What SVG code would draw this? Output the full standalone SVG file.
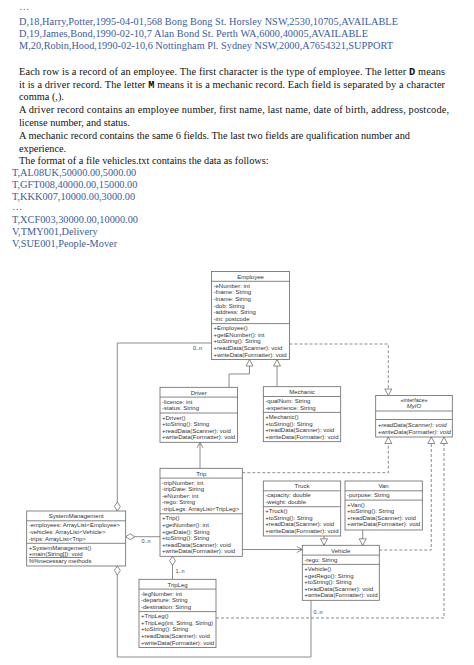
<svg xmlns="http://www.w3.org/2000/svg" width="474" height="665" viewBox="0 0 474 665">
<style>
.t{font-family:"Liberation Serif","Times New Roman",serif;font-size:10.3px}
.blue{fill:#3a5ca0}
.blk{fill:#111}
.mono{font-family:"Liberation Mono","Courier New",monospace;font-weight:bold}
.box{fill:#fff;stroke:#666;stroke-width:0.8}
.sep{stroke:#666;stroke-width:0.8}
.u{font-family:"Liberation Sans",Arial,sans-serif;font-size:6px;fill:#333}
.ttl{text-anchor:middle}
.it{font-style:italic}
.ln{fill:none;stroke:#707070;stroke-width:0.8}
.dash{stroke-dasharray:3 2}
.lbl{font-family:"Liberation Sans",Arial,sans-serif;font-size:5.5px;fill:#444}
.mk{fill:#fff;stroke:#707070;stroke-width:0.8;stroke-dasharray:none}
.mko{fill:none;stroke:#707070;stroke-width:0.8;stroke-dasharray:none}
</style>
<defs>
<marker id="tri" markerUnits="userSpaceOnUse" markerWidth="10" markerHeight="10" refX="6.5" refY="3.5" orient="auto" overflow="visible"><path class="mk" d="M0,0 L6.5,3.5 L0,7 Z"/></marker>
<marker id="open" markerUnits="userSpaceOnUse" markerWidth="10" markerHeight="10" refX="5.5" refY="3" orient="auto" overflow="visible"><path class="mko" d="M0,0 L5.5,3 L0,6"/></marker>
<marker id="dia" markerUnits="userSpaceOnUse" markerWidth="10" markerHeight="10" refX="0" refY="3" orient="auto" overflow="visible"><path class="mk" d="M0,3 L4.5,0 L9,3 L4.5,6 Z"/></marker>
</defs>
<rect width="474" height="665" fill="#fff"/>

<g id="text-block">
<text class="t blue" x="19" y="10">…</text>
<text class="t blue" x="19" y="24.5" textLength="379">D,18,Harry,Potter,1995-04-01,568 Bong Bong St. Horsley NSW,2530,10705,AVAILABLE</text>
<text class="t blue" x="19" y="36.5" textLength="349">D,19,James,Bond,1990-02-10,7 Alan Bond St. Perth WA,6000,40005,AVAILABLE</text>
<text class="t blue" x="19" y="48.5" textLength="374">M,20,Robin,Hood,1990-02-10,6 Nottingham Pl. Sydney NSW,2000,A7654321,SUPPORT</text>
<text class="t blk" x="19" y="75" textLength="426">Each row is a record of an employee. The first character is the type of employee. The letter <tspan class="mono">D</tspan>  means</text>
<text class="t blk" x="19" y="87.5" textLength="426">it is a driver record. The letter <tspan class="mono">M</tspan>  means it is a mechanic record. Each field is separated by a character</text>
<text class="t blk" x="19" y="100">comma (,).</text>
<text class="t blk" x="19" y="113" textLength="430">A driver record contains an employee number, first name, last name, date of birth, address, postcode,</text>
<text class="t blk" x="19" y="125.5">license number, and status.</text>
<text class="t blk" x="19" y="139" textLength="391">A mechanic record contains the same 6 fields. The last two fields are qualification number and</text>
<text class="t blk" x="19" y="151.5">experience.</text>
<text class="t blk" x="19" y="163.5">The format of a file vehicles.txt contains the data as follows:</text>
<text class="t blue" x="12" y="176">T,AL08UK,50000.00,5000.00</text>
<text class="t blue" x="12" y="188">T,GFT008,40000.00,15000.00</text>
<text class="t blue" x="12" y="200">T,KKK007,10000.00,3000.00</text>
<text class="t blue" x="12" y="210">…</text>
<text class="t blue" x="12" y="222.5">T,XCF003,30000.00,10000.00</text>
<text class="t blue" x="12" y="234.5">V,TMY001,Delivery</text>
<text class="t blue" x="12" y="246.5">V,SUE001,People-Mover</text>
</g>

<g id="connectors">
<path class="ln" d="M117.3,511 V343 H211.5" marker-start="url(#dia)"/>
<path class="ln" d="M125.7,536.7 H160" marker-start="url(#dia)"/>
<path class="ln" d="M117.3,566 V657 H311 V600.3" marker-start="url(#dia)"/>
<path class="ln" d="M200,468.3 V442.3" marker-end="url(#open)"/>
<path class="ln" d="M172.5,556.3 V579.3" marker-start="url(#dia)"/>
<path class="ln" d="M242.3,549.5 H302.3" marker-end="url(#open)"/>
<path class="ln" d="M229,387.3 V374 H249.5 V359.5" marker-end="url(#tri)"/>
<path class="ln" d="M277,386.7 V359.5" marker-end="url(#tri)"/>
<path class="ln dash" d="M289.5,344 H388.3 V395.5" marker-end="url(#tri)"/>
<path class="ln dash" d="M242.3,472.7 H388.3 V437" marker-end="url(#tri)"/>
<path class="ln dash" d="M379.3,550 H431.3 V437" marker-end="url(#tri)"/>
<path class="ln dash" d="M216,618 H444 V437" marker-end="url(#tri)"/>
<path class="ln" d="M324,536 V545.3" marker-end="url(#tri)"/>
<path class="ln" d="M362.7,530 V545.3" marker-end="url(#tri)"/>
<text class="lbl" x="193" y="350">0..n</text>
<text class="lbl" x="141.5" y="543">0..n</text>
<text class="lbl" x="313.5" y="614">0..n</text>
<text class="lbl" x="175.5" y="573">1..n</text>
</g>

<g id="Employee">
<rect class="box" x="211.5" y="271.5" width="78" height="88"/>
<line class="sep" x1="211.5" y1="281.3" x2="289.5" y2="281.3"/>
<line class="sep" x1="211.5" y1="323.6" x2="289.5" y2="323.6"/>
<text class="u ttl" x="250.5" y="278.8">Employee</text>
<text class="u" x="213.5" y="287.8">-eNumber: int</text>
<text class="u" x="213.5" y="294.4">-fname: String</text>
<text class="u" x="213.5" y="301">-lname: String</text>
<text class="u" x="213.5" y="307.6">-dob: String</text>
<text class="u" x="213.5" y="314.2">-address: String</text>
<text class="u" x="213.5" y="320.8">-int: postcode</text>
<text class="u" x="213.5" y="330.1">+Employee()</text>
<text class="u" x="213.5" y="336.7">+getENumber(): int</text>
<text class="u" x="213.5" y="343.3">+toString(): String</text>
<text class="u" x="213.5" y="349.9">+readData(Scanner): void</text>
<text class="u" x="213.5" y="356.5">+writeData(Formatter): void</text>
</g>

<g id="Driver">
<rect class="box" x="160" y="387.3" width="77.5" height="55"/>
<line class="sep" x1="160" y1="397.1" x2="237.5" y2="397.1"/>
<line class="sep" x1="160" y1="413" x2="237.5" y2="413"/>
<text class="u ttl" x="198.7" y="394.6">Driver</text>
<text class="u" x="162" y="403.6">-licence: int</text>
<text class="u" x="162" y="410.2">-status: String</text>
<text class="u" x="162" y="419.5">+Driver()</text>
<text class="u" x="162" y="426.1">+toString(): String</text>
<text class="u" x="162" y="432.7">+readData(Scanner): void</text>
<text class="u" x="162" y="439.3">+writeData(Formatter): void</text>
</g>

<g id="Mechanic">
<rect class="box" x="263.3" y="386.7" width="77.4" height="55"/>
<line class="sep" x1="263.3" y1="396.5" x2="340.7" y2="396.5"/>
<line class="sep" x1="263.3" y1="412.4" x2="340.7" y2="412.4"/>
<text class="u ttl" x="302" y="394">Mechanic</text>
<text class="u" x="265.3" y="403">-qualNum: String</text>
<text class="u" x="265.3" y="409.6">-experience: String</text>
<text class="u" x="265.3" y="418.9">+Mechanic()</text>
<text class="u" x="265.3" y="425.5">+toString(): String</text>
<text class="u" x="265.3" y="432.1">+readData(Scanner): void</text>
<text class="u" x="265.3" y="438.7">+writeData(Formatter): void</text>
</g>

<g id="MyIO">
<rect class="box" x="375.7" y="395.5" width="76.6" height="41.5"/>
<line class="sep" x1="375.7" y1="411" x2="452.3" y2="411"/>
<line class="sep" x1="375.7" y1="419.5" x2="452.3" y2="419.5"/>
<text class="u ttl" x="414" y="402" style="font-size:5.5px">«interface»</text>
<text class="u ttl it" x="414" y="408.4">MyIO</text>
<text class="u it" x="377.7" y="427">+readData(Scanner): void</text>
<text class="u it" x="377.7" y="433.6">+writeData(Formatter): void</text>
</g>

<g id="Trip">
<rect class="box" x="160" y="468.3" width="82.3" height="88"/>
<line class="sep" x1="160" y1="478.1" x2="242.3" y2="478.1"/>
<line class="sep" x1="160" y1="513.8" x2="242.3" y2="513.8"/>
<text class="u ttl" x="201.2" y="475.6">Trip</text>
<text class="u" x="162" y="484.6">-tripNumber: int</text>
<text class="u" x="162" y="491.2">-tripDate: String</text>
<text class="u" x="162" y="497.8">-eNumber: int</text>
<text class="u" x="162" y="504.4">-rego: String</text>
<text class="u" x="162" y="511">-tripLegs: ArrayList&lt;TripLeg&gt;</text>
<text class="u" x="162" y="520.3">+Trip()</text>
<text class="u" x="162" y="526.9">+getNumber(): int</text>
<text class="u" x="162" y="533.5">+getDate(): String</text>
<text class="u" x="162" y="540.1">+toString(): String</text>
<text class="u" x="162" y="546.7">+readData(Scanner): void</text>
<text class="u" x="162" y="553.3">+writeData(Formatter): void</text>
</g>

<g id="Truck">
<rect class="box" x="263.3" y="481" width="77.4" height="55"/>
<line class="sep" x1="263.3" y1="490.8" x2="340.7" y2="490.8"/>
<line class="sep" x1="263.3" y1="506.7" x2="340.7" y2="506.7"/>
<text class="u ttl" x="302" y="488.3">Truck</text>
<text class="u" x="265.3" y="497.3">-capacity: double</text>
<text class="u" x="265.3" y="503.9">-weight: double</text>
<text class="u" x="265.3" y="513.2">+Truck()</text>
<text class="u" x="265.3" y="519.8">+toString(): String</text>
<text class="u" x="265.3" y="526.4">+readData(Scanner): void</text>
<text class="u" x="265.3" y="533">+writeData(Formatter): void</text>
</g>

<g id="Van">
<rect class="box" x="345" y="481" width="77.3" height="49"/>
<line class="sep" x1="345" y1="490.8" x2="422.3" y2="490.8"/>
<line class="sep" x1="345" y1="500.1" x2="422.3" y2="500.1"/>
<text class="u ttl" x="383.6" y="488.3">Van</text>
<text class="u" x="347" y="497.3">-purpose: String</text>
<text class="u" x="347" y="506.6">+Van()</text>
<text class="u" x="347" y="513.2">+toString(): String</text>
<text class="u" x="347" y="519.8">+readData(Scanner): void</text>
<text class="u" x="347" y="526.4">+writeData(Formatter): void</text>
</g>

<g id="Vehicle">
<rect class="box" x="302.3" y="545.3" width="77" height="55"/>
<line class="sep" x1="302.3" y1="555.1" x2="379.3" y2="555.1"/>
<line class="sep" x1="302.3" y1="564.4" x2="379.3" y2="564.4"/>
<text class="u ttl" x="340.8" y="552.6">Vehicle</text>
<text class="u" x="304.3" y="561.6">-rego: String</text>
<text class="u" x="304.3" y="570.9">+Vehicle()</text>
<text class="u" x="304.3" y="577.5">+getRego(): String</text>
<text class="u" x="304.3" y="584.1">+toString(): String</text>
<text class="u" x="304.3" y="590.7">+readData(Scanner): void</text>
<text class="u" x="304.3" y="597.3">+writeData(Formatter): void</text>
</g>

<g id="SystemManagement">
<rect class="box" x="26.7" y="511" width="99" height="55"/>
<line class="sep" x1="26.7" y1="520.8" x2="125.7" y2="520.8"/>
<line class="sep" x1="26.7" y1="543.3" x2="125.7" y2="543.3"/>
<text class="u ttl" x="76.2" y="518.3">SystemManagement</text>
<text class="u" x="28.7" y="527.3">-employees: ArrayList&lt;Employee&gt;</text>
<text class="u" x="28.7" y="533.9">-vehicles: ArrayList&lt;Vehicle&gt;</text>
<text class="u" x="28.7" y="540.5">-trips: ArrayList&lt;Trip&gt;</text>
<text class="u" x="28.7" y="549.8">+SystemManagement()</text>
<text class="u" x="28.7" y="556.4" text-decoration="underline">+main(String[]): void</text>
<text class="u" x="28.7" y="563">%%necessary methods</text>
</g>

<g id="TripLeg">
<rect class="box" x="139" y="579.3" width="77" height="68.2"/>
<line class="sep" x1="139" y1="589.1" x2="216" y2="589.1"/>
<line class="sep" x1="139" y1="611.6" x2="216" y2="611.6"/>
<text class="u ttl" x="177.5" y="586.6">TripLeg</text>
<text class="u" x="141" y="595.6">-legNumber: int</text>
<text class="u" x="141" y="602.2">-departure: String</text>
<text class="u" x="141" y="608.8">-destination: String</text>
<text class="u" x="141" y="618.1">+TripLeg()</text>
<text class="u" x="141" y="624.7">+TripLeg(int, String, String)</text>
<text class="u" x="141" y="631.3">+toString(): String</text>
<text class="u" x="141" y="637.9">+readData(Scanner): void</text>
<text class="u" x="141" y="644.5">+writeData(Formatter): void</text>
</g>
</svg>
